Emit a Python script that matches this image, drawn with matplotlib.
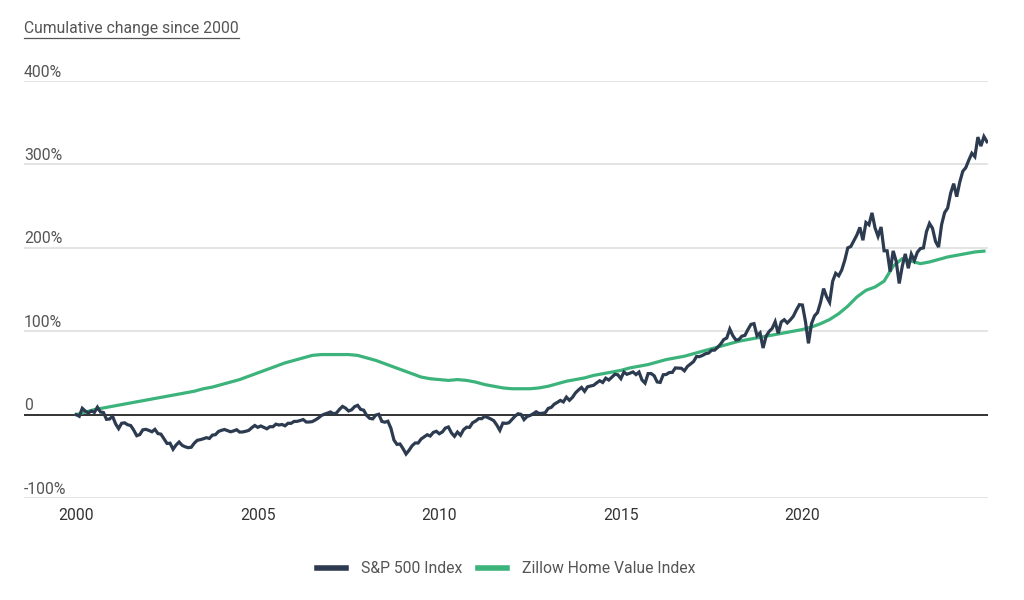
import numpy as np
import matplotlib.pyplot as plt
from matplotlib.lines import Line2D
from matplotlib.transforms import blended_transform_factory

plt.rcParams['font.family'] = ['Roboto', 'DejaVu Sans']

# S&P 500 monthly closes, Jan 2000 - Feb 2025
sp500_close = [
    1394, 1366, 1499, 1452, 1421, 1455, 1431, 1518, 1437, 1429, 1315, 1320,
    1366, 1240, 1160, 1249, 1256, 1224, 1211, 1134, 1041, 1060, 1139, 1148,
    1130, 1107, 1147, 1077, 1067, 990, 912, 916, 815, 886, 936, 880,
    856, 841, 848, 916, 964, 975, 990, 1008, 996, 1051, 1058, 1112,
    1131, 1145, 1126, 1107, 1121, 1141, 1102, 1104, 1115, 1130, 1174, 1212,
    1181, 1204, 1181, 1157, 1192, 1191, 1234, 1220, 1229, 1207, 1249, 1248,
    1280, 1281, 1295, 1311, 1270, 1270, 1277, 1304, 1336, 1378, 1401, 1418,
    1438, 1407, 1421, 1482, 1531, 1503, 1455, 1474, 1527, 1549, 1481, 1468,
    1379, 1331, 1323, 1386, 1400, 1280, 1267, 1283, 1165, 969, 896, 903,
    826, 735, 798, 873, 919, 919, 987, 1021, 1057, 1036, 1096, 1115,
    1074, 1104, 1169, 1187, 1089, 1031, 1102, 1049, 1141, 1183, 1181, 1258,
    1286, 1327, 1326, 1364, 1345, 1321, 1292, 1219, 1131, 1253, 1247, 1258,
    1312, 1366, 1408, 1398, 1310, 1362, 1379, 1407, 1441, 1412, 1416, 1426,
    1498, 1515, 1569, 1598, 1631, 1606, 1686, 1633, 1682, 1757, 1806, 1848,
    1783, 1859, 1872, 1884, 1924, 1960, 1931, 2003, 1972, 2018, 2068, 2059,
    1995, 2105, 2068, 2086, 2107, 2063, 2104, 1972, 1920, 2079, 2080, 2044,
    1940, 1932, 2060, 2065, 2097, 2099, 2174, 2171, 2168, 2126, 2199, 2239,
    2279, 2364, 2363, 2384, 2412, 2423, 2470, 2472, 2519, 2575, 2648, 2674,
    2824, 2714, 2641, 2648, 2705, 2718, 2816, 2902, 2914, 2712, 2760, 2507,
    2704, 2784, 2834, 2946, 2752, 2942, 2980, 2926, 2977, 3038, 3141, 3231,
    3226, 2954, 2585, 2912, 3044, 3100, 3271, 3500, 3363, 3270, 3622, 3756,
    3714, 3811, 3973, 4181, 4204, 4298, 4395, 4523, 4308, 4605, 4567, 4766,
    4516, 4374, 4530, 4132, 4132, 3785, 4130, 3955, 3586, 3872, 4080, 3840,
    4077, 3970, 4109, 4169, 4180, 4450, 4589, 4508, 4288, 4194, 4568, 4770,
    4846, 5096, 5254, 5036, 5278, 5460, 5522, 5648, 5762, 5705, 6032, 5882,
    6041, 5955,
]

# Zillow Home Value Index, cumulative % change, quarterly (Jan/Apr/Jul/Oct)
zillow_pct = [
    0, 3, 6, 8,
    10, 12, 14, 16,
    18, 20, 22, 24,
    26, 28, 31, 33,
    36, 39, 42, 46,
    50, 54, 58, 62,
    65, 68, 71, 72,
    72, 72, 72, 71,
    68, 65, 61, 57,
    53, 49, 45, 43,
    42, 41, 42, 41,
    39, 36, 34, 32,
    31, 31, 31, 32,
    34, 37, 40, 42,
    44, 47, 49, 51,
    53, 56, 58, 60,
    63, 66, 68, 70,
    73, 76, 79, 82,
    85, 88, 90, 92,
    94, 96, 98, 100,
    102, 105, 109, 114,
    121, 130, 141, 149,
    153, 160, 178, 187,
    184, 181, 183, 186,
    189, 191, 193, 195,
    196,
]

y_ticks = [-100, 0, 100, 200, 300, 400]
y_labels = ["-100%", "0", "100%", "200%", "300%", "400%"]
x_ticks = [2000, 2005, 2010, 2015, 2020]

sp500 = np.array(sp500_close, dtype=float)
sp500_pct = (sp500 / sp500[0] - 1) * 100
sp_x = 2000 + np.arange(len(sp500)) / 12
zi_x = 2000 + np.arange(len(zillow_pct)) / 4

navy = "#2C3B4F"
green = "#3BB37A"
text_col = "#555555"
fs = 11.3

fig = plt.figure(figsize=(10.24, 6), dpi=100, facecolor="white")
ax = fig.add_axes([0.0234, 0.17, 0.9415, 0.695])

for t in y_ticks:
    if t == 0:
        ax.axhline(0, color="#111111", lw=1.2, zorder=2)
    else:
        ax.axhline(t, color="#DDDDDD", lw=1.1, zorder=1)

ax.plot(sp_x, sp500_pct, color=navy, lw=2.3, zorder=4, label="S&P 500 Index",
        solid_joinstyle="miter")
ax.plot(zi_x, zillow_pct, color=green, lw=2.3, zorder=3, label="Zillow Home Value Index")

ax.set_xlim(1998.56, sp_x[-1] + 0.03)
ax.set_ylim(-100, 400)
ax.set_xticks(x_ticks)
ax.set_xticklabels([str(x) for x in x_ticks], fontsize=fs, color="#333333")
ax.tick_params(axis="x", length=0, pad=7)
ax.set_yticks([])
for s in ax.spines.values():
    s.set_visible(False)

trans = blended_transform_factory(ax.transAxes, ax.transData)
for t, lab in zip(y_ticks, y_labels):
    ax.annotate(lab, xy=(0, t), xycoords=trans, xytext=(0, 1), textcoords="offset points",
                ha="left", va="bottom", fontsize=fs, color=text_col)

title = fig.text(0.0234, 0.952, "Cumulative change since 2000", fontsize=fs,
                 color=text_col, ha="left", va="center")
fig.canvas.draw()
bb = title.get_window_extent().transformed(fig.transFigure.inverted())
fig.add_artist(Line2D([bb.x0, bb.x1], [bb.y0 - 0.002, bb.y0 - 0.002], color=text_col,
                      lw=0.9, transform=fig.transFigure))

handles = [Line2D([0], [0], color=navy, lw=4, label="S&P 500 Index"),
           Line2D([0], [0], color=green, lw=4, label="Zillow Home Value Index")]
leg = fig.legend(handles=handles, loc="center", bbox_to_anchor=(0.494, 0.052), ncol=2,
                 frameon=False, fontsize=fs, handlelength=1.9, columnspacing=1.0,
                 handletextpad=0.9)
for txt in leg.get_texts():
    txt.set_color(text_col)

fig.savefig("out.png", dpi=100, facecolor="white")
